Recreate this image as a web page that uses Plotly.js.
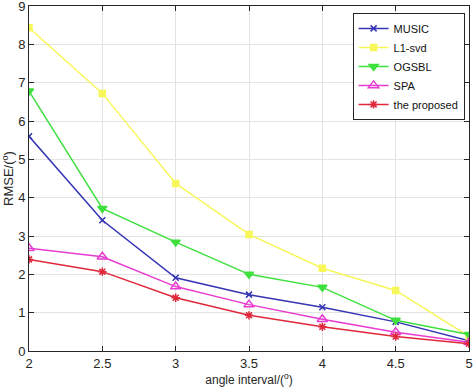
<!DOCTYPE html>
<html><head><meta charset="utf-8">
<script src="https://cdn.plot.ly/plotly-3.0.1.min.js"></script>
<style>html,body{margin:0;padding:0;background:#fff}#c{width:474px;height:390px}</style>
</head><body><div id="c"></div>
<script>
const xVals = [2, 2.5, 3, 3.5, 4, 4.5, 5];
const xTickText = ['2', '2.5', '3', '3.5', '4', '4.5', '5'];
const yTicks = [0, 1, 2, 3, 4, 5, 6, 7, 8, 9];
const music = [5.6, 3.41, 1.91, 1.47, 1.14, 0.76, 0.27];
const l1svd = [8.43, 6.72, 4.37, 3.04, 2.16, 1.58, 0.38];
const ogsbl = [6.78, 3.72, 2.84, 2.0, 1.66, 0.8, 0.43];
const spa = [2.68, 2.46, 1.68, 1.21, 0.83, 0.49, 0.23];
const proposed = [2.39, 2.07, 1.39, 0.93, 0.63, 0.38, 0.19];
const names = ['MUSIC', 'L1-svd', 'OGSBL', 'SPA', 'the proposed'];

const series = [music, l1svd, ogsbl, spa, proposed];
const colors = ['#3434b4', '#f7f75a', '#3ee03e', '#e83cd0', '#e0283c'];
const symbols = ['x-thin-open', 'square', 'triangle-down', 'triangle-up-open', 'asterisk-open'];
const sizes = [6, 6, 8, 9, 7];

const traces = series.map((y, i) => ({
  x: xVals, y: y, name: names[i], type: 'scatter', mode: 'lines+markers',
  line: {color: colors[i], width: 1.5},
  marker: {symbol: symbols[i], size: sizes[i], color: colors[i], line: {color: colors[i], width: 1.5}}
}));

const axisCommon = {
  showline: true, linecolor: '#262626', linewidth: 1, mirror: 'ticks',
  ticks: 'inside', ticklen: 5, tickcolor: '#262626',
  showgrid: true, gridcolor: '#e3e3e3', gridwidth: 1, zeroline: false,
  ticklabeloverflow: 'allow',
  tickfont: {family: 'Liberation Sans, Arial, sans-serif', size: 13, color: '#262626'}
};

const layout = {
  width: 474, height: 390,
  margin: {l: 29, r: 5, t: 6, b: 39},
  paper_bgcolor: '#fff', plot_bgcolor: '#fff',
  showlegend: true,
  legend: {x: 0.99, y: 0.98, xanchor: 'right', yanchor: 'top',
    bgcolor: '#fff', bordercolor: '#262626', borderwidth: 1,
    font: {family: 'Liberation Sans, Arial, sans-serif', size: 11, color: '#111'},
    tracegroupgap: 0, itemwidth: 30},
  xaxis: Object.assign({}, axisCommon, {
    range: [2, 5], tickmode: 'array', tickvals: xVals, ticktext: xTickText,
    title: {text: 'angle interval/(<sup>o</sup>)', standoff: 6,
      font: {family: 'Liberation Sans, Arial, sans-serif', size: 12, color: '#262626'}}
  }),
  yaxis: Object.assign({}, axisCommon, {
    range: [0, 9], tickmode: 'array', tickvals: yTicks,
    title: {text: 'RMSE/(<sup>o</sup>)', standoff: 3,
      font: {family: 'Liberation Sans, Arial, sans-serif', size: 13, color: '#262626'}}
  })
};

Plotly.newPlot('c', traces, layout, {displayModeBar: false, staticPlot: true});
</script>
</body></html>
